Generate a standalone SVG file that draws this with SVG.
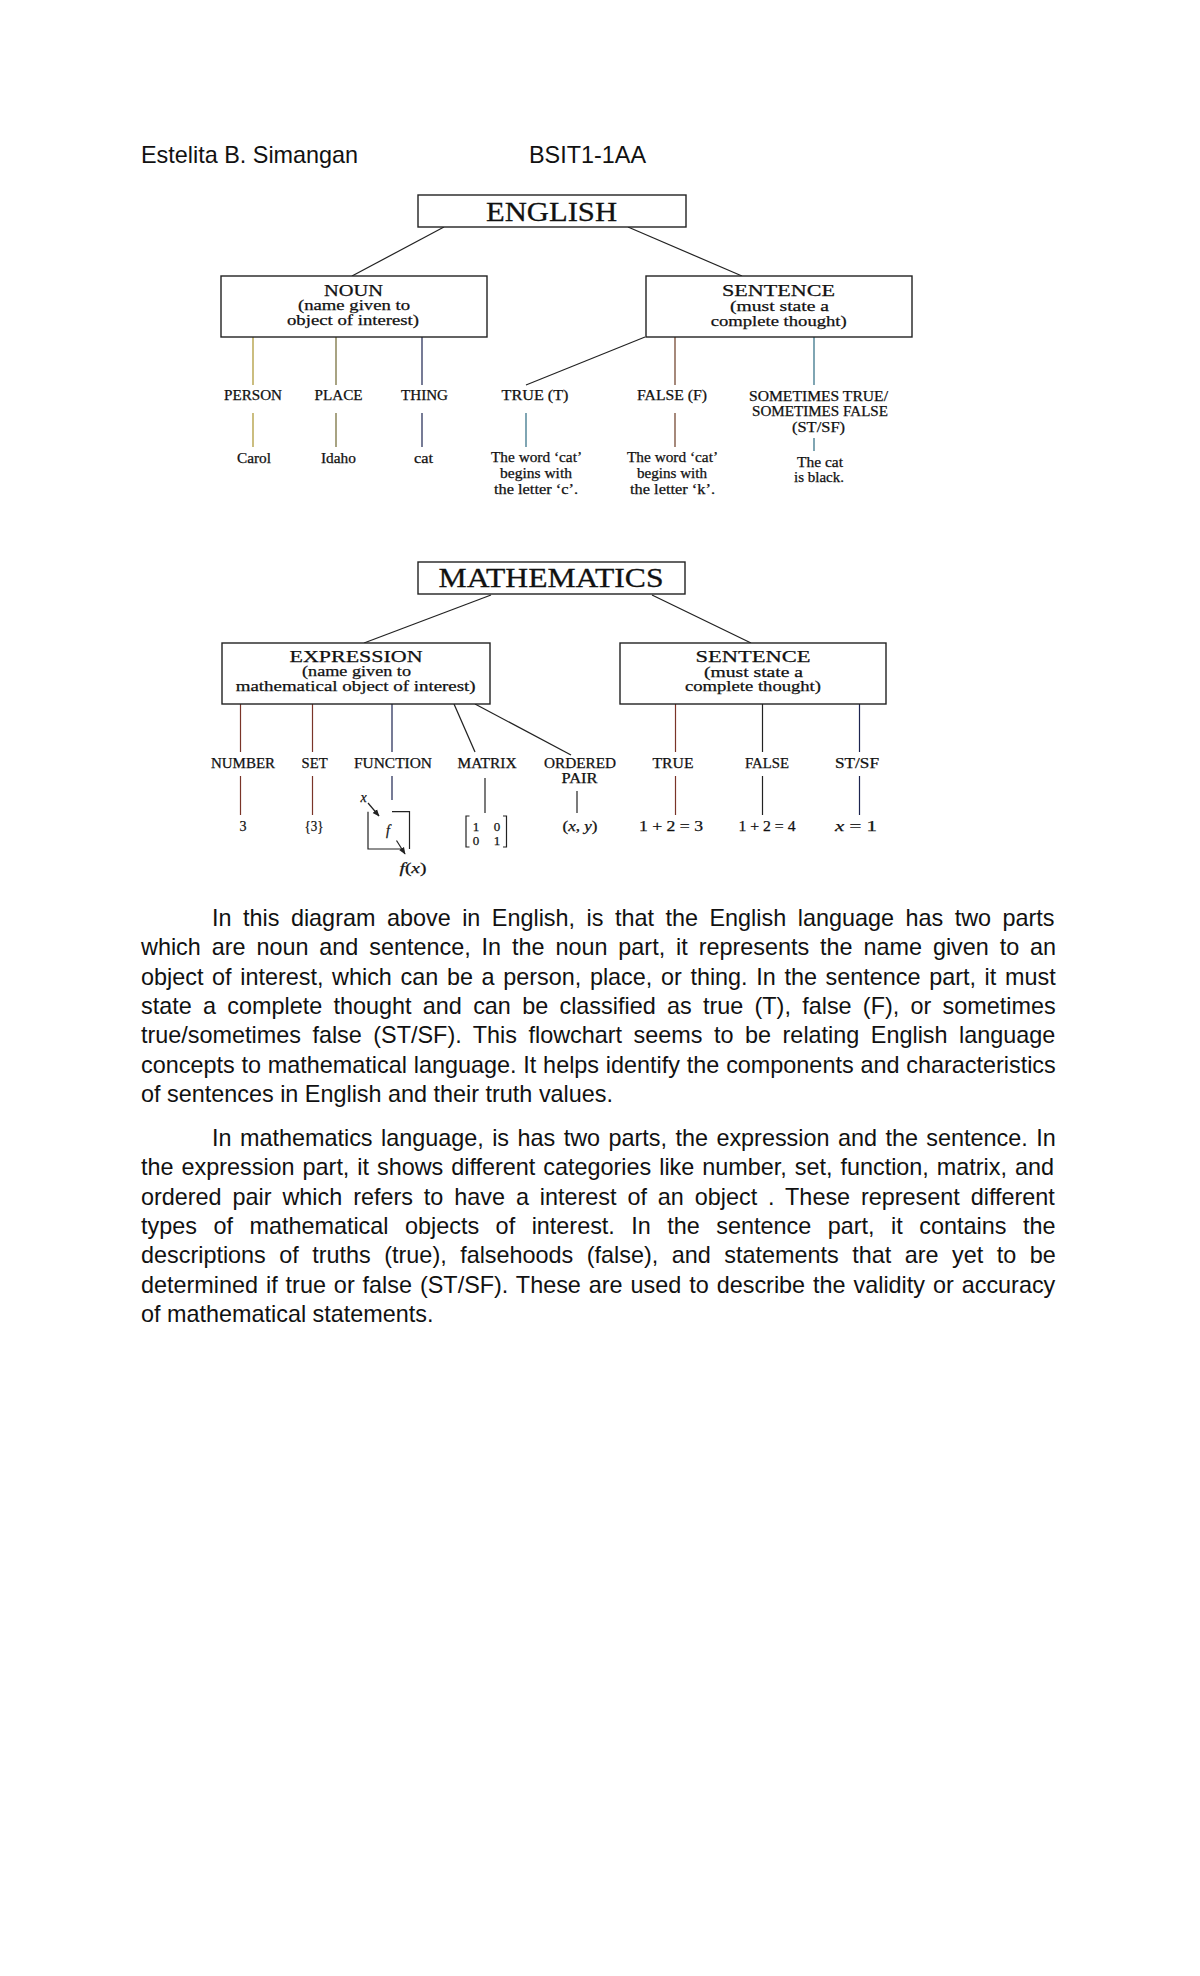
<svg xmlns="http://www.w3.org/2000/svg" width="1200" height="1976" viewBox="0 0 1200 1976">
<style>
.pg{fill:#fff}
.hdr,.body{font-family:"Liberation Sans",Arial,sans-serif;font-size:23.4px;fill:#111}
.box{fill:#fff;stroke:#222;stroke-width:1.4}
.t{font-family:"Liberation Serif","Times New Roman",serif;fill:#111;stroke:#111;stroke-width:0.25;text-anchor:middle}
.big{font-size:28px;stroke-width:0.3}
.ttl{font-size:16.5px}
.sub{font-size:14.5px}
.lbl{font-size:14px}
.val{font-size:14px}
.mi{font-style:italic}
.e{stroke:#222;stroke-width:1.2;fill:none}
.gold{stroke:#a8922a}
.olive{stroke:#6e6630}
.navy{stroke:#1c2450}
.teal{stroke:#2a6a80}
.brown{stroke:#6a3a22}
.red{stroke:#7a3428}
</style>
<defs>
<marker id="ah" viewBox="0 0 10 10" refX="9" refY="5" markerWidth="6" markerHeight="6" orient="auto-start-reverse">
<path d="M0,1 L10,5 L0,9 z" fill="#222"/>
</marker>
</defs>
<rect class="pg" x="0" y="0" width="1200" height="1976"/>

<g id="header">
<text class="hdr" x="141" y="163">Estelita B. Simangan</text>
<text class="hdr" x="529" y="163">BSIT1-1AA</text>
</g>

<g id="connectors">
<!-- English -->
<line class="e" x1="444" y1="227" x2="352" y2="276"/>
<line class="e" x1="628" y1="227" x2="742" y2="276"/>
<line class="e gold" x1="253" y1="337" x2="253" y2="385"/>
<line class="e olive" x1="336" y1="337" x2="336" y2="385"/>
<line class="e navy" x1="422" y1="337" x2="422" y2="385"/>
<line class="e gold" x1="253" y1="413" x2="253" y2="447"/>
<line class="e olive" x1="336" y1="413" x2="336" y2="447"/>
<line class="e navy" x1="422" y1="413" x2="422" y2="447"/>
<line class="e" x1="645" y1="337" x2="526" y2="385"/>
<line class="e teal" x1="526" y1="413" x2="526" y2="447"/>
<line class="e brown" x1="675" y1="337" x2="675" y2="385"/>
<line class="e brown" x1="675" y1="413" x2="675" y2="447"/>
<line class="e teal" x1="814" y1="337" x2="814" y2="385"/>
<line class="e teal" x1="814" y1="438" x2="814" y2="451"/>
<!-- Mathematics -->
<line class="e" x1="491" y1="595" x2="364" y2="643"/>
<line class="e" x1="652" y1="595" x2="751" y2="643"/>
<line class="e red" x1="240.5" y1="704" x2="240.5" y2="752"/>
<line class="e red" x1="312.5" y1="704" x2="312.5" y2="752"/>
<line class="e navy" x1="392" y1="704" x2="392" y2="752"/>
<line class="e" x1="454" y1="704" x2="475" y2="752"/>
<line class="e" x1="475" y1="704" x2="571" y2="755"/>
<line class="e red" x1="675.5" y1="704" x2="675.5" y2="752"/>
<line class="e" x1="762.5" y1="704" x2="762.5" y2="752"/>
<line class="e navy" x1="859.5" y1="704" x2="859.5" y2="752"/>
<line class="e red" x1="240.5" y1="776" x2="240.5" y2="815"/>
<line class="e red" x1="312.5" y1="776" x2="312.5" y2="815"/>
<line class="e navy" x1="392" y1="776" x2="392" y2="800"/>
<line class="e" x1="485" y1="778" x2="485" y2="813"/>
<line class="e" x1="577" y1="791" x2="577" y2="813"/>
<line class="e red" x1="675.5" y1="776" x2="675.5" y2="815"/>
<line class="e" x1="762.5" y1="776" x2="762.5" y2="815"/>
<line class="e navy" x1="859.5" y1="776" x2="859.5" y2="815"/>
</g>

<g id="english">
<rect class="box" x="418" y="195" width="268" height="32"/>
<text class="t big" x="551.5" y="221" textLength="131" lengthAdjust="spacingAndGlyphs">ENGLISH</text>
</g>
<g id="noun">
<rect class="box" x="221" y="276" width="266" height="61"/>
<text class="t ttl" x="353.5" y="296" textLength="59" lengthAdjust="spacingAndGlyphs">NOUN</text>
<text class="t sub" x="354" y="310" textLength="112" lengthAdjust="spacingAndGlyphs">(name given to</text>
<text class="t sub" x="353" y="325" textLength="132" lengthAdjust="spacingAndGlyphs">object of interest)</text>
</g>
<g id="sentence-en">
<rect class="box" x="646" y="276" width="266" height="61"/>
<text class="t ttl" x="778.5" y="296" textLength="113" lengthAdjust="spacingAndGlyphs">SENTENCE</text>
<text class="t sub" x="779.5" y="310.5" textLength="99" lengthAdjust="spacingAndGlyphs">(must state a</text>
<text class="t sub" x="778.7" y="325.5" textLength="136" lengthAdjust="spacingAndGlyphs">complete thought)</text>
</g>
<g id="person"><text class="t lbl" x="253" y="400" textLength="58" lengthAdjust="spacingAndGlyphs">PERSON</text></g>
<g id="place"><text class="t lbl" x="338.5" y="400" textLength="48" lengthAdjust="spacingAndGlyphs">PLACE</text></g>
<g id="thing"><text class="t lbl" x="424.5" y="400" textLength="47" lengthAdjust="spacingAndGlyphs">THING</text></g>
<g id="true-t"><text class="t lbl" x="535" y="400" textLength="67" lengthAdjust="spacingAndGlyphs">TRUE (T)</text></g>
<g id="false-f"><text class="t lbl" x="672" y="400" textLength="70" lengthAdjust="spacingAndGlyphs">FALSE (F)</text></g>
<g id="stsf-en">
<text class="t lbl" x="818.5" y="400.5" textLength="139" lengthAdjust="spacingAndGlyphs">SOMETIMES TRUE/</text>
<text class="t lbl" x="820" y="415.5" textLength="136" lengthAdjust="spacingAndGlyphs">SOMETIMES FALSE</text>
<text class="t lbl" x="818.5" y="431.5" textLength="53" lengthAdjust="spacingAndGlyphs">(ST/SF)</text>
</g>
<g id="carol"><text class="t val" x="254" y="463" textLength="34" lengthAdjust="spacingAndGlyphs">Carol</text></g>
<g id="idaho"><text class="t val" x="338.5" y="463" textLength="35" lengthAdjust="spacingAndGlyphs">Idaho</text></g>
<g id="cat"><text class="t val" x="423.5" y="463" textLength="19" lengthAdjust="spacingAndGlyphs">cat</text></g>
<g id="ex-true">
<text class="t val" x="536.5" y="462" textLength="91" lengthAdjust="spacingAndGlyphs">The word ‘cat’</text>
<text class="t val" x="536" y="478" textLength="72" lengthAdjust="spacingAndGlyphs">begins with</text>
<text class="t val" x="536" y="494" textLength="84" lengthAdjust="spacingAndGlyphs">the letter ‘c’.</text>
</g>
<g id="ex-false">
<text class="t val" x="672.5" y="462" textLength="91" lengthAdjust="spacingAndGlyphs">The word ‘cat’</text>
<text class="t val" x="672" y="478" textLength="70" lengthAdjust="spacingAndGlyphs">begins with</text>
<text class="t val" x="672.5" y="494" textLength="85" lengthAdjust="spacingAndGlyphs">the letter ‘k’.</text>
</g>
<g id="ex-stsf">
<text class="t val" x="820" y="466.7" textLength="46" lengthAdjust="spacingAndGlyphs">The cat</text>
<text class="t val" x="819" y="481.7" textLength="50" lengthAdjust="spacingAndGlyphs">is black.</text>
</g>

<g id="mathematics">
<rect class="box" x="418" y="562" width="267" height="32"/>
<text class="t big" x="551" y="587" textLength="225" lengthAdjust="spacingAndGlyphs">MATHEMATICS</text>
</g>
<g id="expression">
<rect class="box" x="222" y="643" width="268" height="61"/>
<text class="t ttl" x="356" y="662" textLength="133" lengthAdjust="spacingAndGlyphs">EXPRESSION</text>
<text class="t sub" x="356.5" y="676" textLength="109" lengthAdjust="spacingAndGlyphs">(name given to</text>
<text class="t sub" x="355.7" y="690.7" textLength="240" lengthAdjust="spacingAndGlyphs">mathematical object of interest)</text>
</g>
<g id="sentence-math">
<rect class="box" x="620" y="643" width="266" height="61"/>
<text class="t ttl" x="753" y="662" textLength="115" lengthAdjust="spacingAndGlyphs">SENTENCE</text>
<text class="t sub" x="753.5" y="676.5" textLength="99" lengthAdjust="spacingAndGlyphs">(must state a</text>
<text class="t sub" x="753" y="690.7" textLength="136" lengthAdjust="spacingAndGlyphs">complete thought)</text>
</g>
<g id="number"><text class="t lbl" x="243" y="768.3" textLength="64" lengthAdjust="spacingAndGlyphs">NUMBER</text></g>
<g id="set"><text class="t lbl" x="314.6" y="768.3" textLength="26" lengthAdjust="spacingAndGlyphs">SET</text></g>
<g id="function"><text class="t lbl" x="393" y="768.3" textLength="78" lengthAdjust="spacingAndGlyphs">FUNCTION</text></g>
<g id="matrix"><text class="t lbl" x="487" y="768.3" textLength="59" lengthAdjust="spacingAndGlyphs">MATRIX</text></g>
<g id="ordered-pair">
<text class="t lbl" x="580" y="768.3" textLength="72" lengthAdjust="spacingAndGlyphs">ORDERED</text>
<text class="t lbl" x="579.5" y="782.7" textLength="36" lengthAdjust="spacingAndGlyphs">PAIR</text>
</g>
<g id="true-m"><text class="t lbl" x="673" y="768.3" textLength="41" lengthAdjust="spacingAndGlyphs">TRUE</text></g>
<g id="false-m"><text class="t lbl" x="767" y="768.3" textLength="44" lengthAdjust="spacingAndGlyphs">FALSE</text></g>
<g id="stsf-m"><text class="t lbl" x="857" y="768.3" textLength="44" lengthAdjust="spacingAndGlyphs">ST/SF</text></g>

<g id="val-3"><text class="t val" x="243" y="830.7">3</text></g>
<g id="val-set"><text class="t val" x="314" y="830.7" textLength="19" lengthAdjust="spacingAndGlyphs">{3}</text></g>
<g id="val-function">
<text class="t val mi" x="363.5" y="801.5">x</text>
<line class="e" x1="368" y1="803" x2="379" y2="816" marker-end="url(#ah)"/>
<path class="e" d="M368,811.7 V849 H401"/>
<path class="e" d="M392,811.7 H409.5 V849"/>
<text class="t val mi" x="388" y="835">f</text>
<line class="e" x1="396.5" y1="840.5" x2="405" y2="854" marker-end="url(#ah)"/>
<text class="t val" x="413" y="872.7" textLength="27" lengthAdjust="spacingAndGlyphs"><tspan class="mi">f</tspan>(<tspan class="mi">x</tspan>)</text>
</g>
<g id="val-matrix">
<path class="e" d="M469.5,816 H466 V847 H469.5"/>
<path class="e" d="M503,816 H506.5 V847 H503"/>
<text class="t val" x="476" y="830.7" style="font-size:13px">1</text>
<text class="t val" x="497" y="830.7" style="font-size:13px">0</text>
<text class="t val" x="476" y="844.5" style="font-size:13px">0</text>
<text class="t val" x="497" y="844.5" style="font-size:13px">1</text>
</g>
<g id="val-pair"><text class="t val" x="580" y="830.7" textLength="35" lengthAdjust="spacingAndGlyphs">(<tspan class="mi">x</tspan>, <tspan class="mi">y</tspan>)</text></g>
<g id="val-true"><text class="t val" x="671" y="830.7" textLength="64" lengthAdjust="spacingAndGlyphs">1 + 2 = 3</text></g>
<g id="val-false"><text class="t val" x="767" y="830.7" textLength="57" lengthAdjust="spacingAndGlyphs">1 + 2 = 4</text></g>
<g id="val-stsf"><text class="t val" x="856" y="830.7" textLength="42" lengthAdjust="spacingAndGlyphs"><tspan class="mi">x</tspan> = 1</text></g>

<g id="paragraph-1">
<text class="body" x="212" y="926" word-spacing="5.0">In this diagram above in English, is that the English language has two parts</text>
<text class="body" x="141" y="955.3" word-spacing="4.4">which are noun and sentence, In the noun part, it represents the name given to an</text>
<text class="body" x="141" y="984.6" word-spacing="2.15">object of interest, which can be a person, place, or thing. In the sentence part, it must</text>
<text class="body" x="141" y="1014" word-spacing="4.79">state a complete thought and can be classified as true (T), false (F), or sometimes</text>
<text class="body" x="141" y="1043.3" word-spacing="5.02">true/sometimes false (ST/SF). This flowchart seems to be relating English language</text>
<text class="body" x="141" y="1072.6" word-spacing="0.33">concepts to mathematical language. It helps identify the components and characteristics</text>
<text class="body" x="141" y="1102">of sentences in English and their truth values.</text>
</g>
<g id="paragraph-2">
<text class="body" x="212" y="1146" word-spacing="1.94">In mathematics language, is has two parts, the expression and the sentence. In</text>
<text class="body" x="141" y="1175.3" word-spacing="1.47">the expression part, it shows different categories like number, set, function, matrix, and</text>
<text class="body" x="141" y="1204.6" word-spacing="4.41">ordered pair which refers to have a interest of an object . These represent different</text>
<text class="body" x="141" y="1234" word-spacing="10.0">types of mathematical objects of interest. In the sentence part, it contains the</text>
<text class="body" x="141" y="1263.3" word-spacing="6.99">descriptions of truths (true), falsehoods (false), and statements that are yet to be</text>
<text class="body" x="141" y="1292.6" word-spacing="1.45">determined if true or false (ST/SF). These are used to describe the validity or accuracy</text>
<text class="body" x="141" y="1322">of mathematical statements.</text>
</g>
</svg>
